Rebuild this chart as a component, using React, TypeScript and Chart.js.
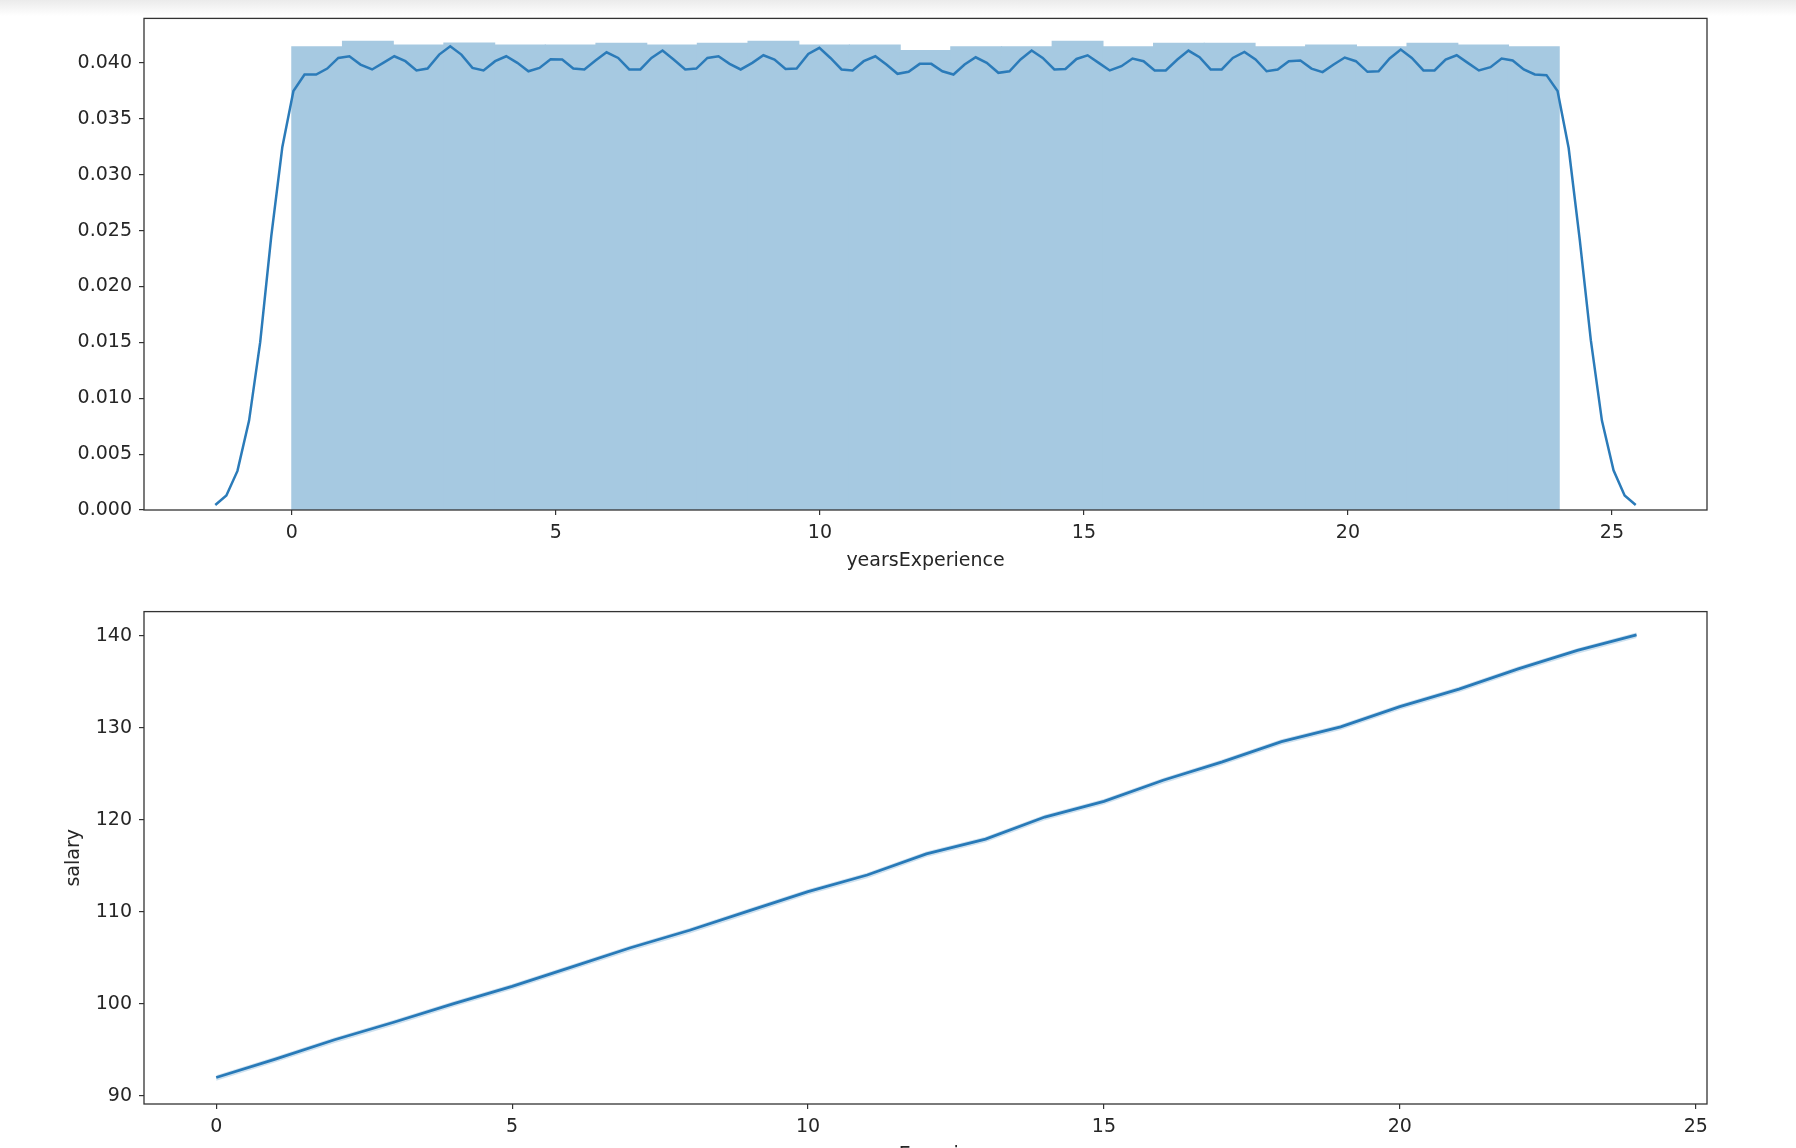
import React, { useEffect, useRef } from "react";
import { Chart, registerables } from "chart.js";

Chart.register(...registerables);

// ---------- top panel: histogram (density) + KDE ----------
const histBinCenters = [
  0.48, 1.44, 2.4, 3.36, 4.32, 5.28, 6.24, 7.2, 8.16, 9.12, 10.08, 11.04, 12.0,
  12.96, 13.92, 14.88, 15.84, 16.8, 17.76, 18.72, 19.68, 20.64, 21.6, 22.56, 23.52,
];
const histDensity = [
  0.04145, 0.04195, 0.0416, 0.0418, 0.0416, 0.0416, 0.04177, 0.0416, 0.04177,
  0.04195, 0.0416, 0.0416, 0.04112, 0.04145, 0.04145, 0.04195, 0.04145, 0.04177,
  0.04177, 0.04145, 0.0416, 0.04145, 0.04177, 0.0416, 0.04145,
];

const kdeX = [
  -1.45, -1.24, -1.03, -0.81, -0.6, -0.39, -0.18, 0.03, 0.24, 0.46, 0.67, 0.88,
  1.09, 1.3, 1.52, 1.73, 1.94, 2.15, 2.36, 2.57, 2.79, 3.0, 3.21, 3.42, 3.63,
  3.85, 4.06, 4.27, 4.48, 4.69, 4.9, 5.12, 5.33, 5.54, 5.75, 5.96, 6.18, 6.39,
  6.6, 6.81, 7.02, 7.23, 7.45, 7.66, 7.87, 8.08, 8.29, 8.5, 8.72, 8.93, 9.14,
  9.35, 9.56, 9.78, 9.99, 10.2, 10.41, 10.62, 10.83, 11.05, 11.26, 11.47, 11.68,
  11.89, 12.11, 12.32, 12.53, 12.74, 12.95, 13.16, 13.38, 13.59, 13.8, 14.01,
  14.22, 14.44, 14.65, 14.86, 15.07, 15.28, 15.49, 15.71, 15.92, 16.13, 16.34,
  16.55, 16.77, 16.98, 17.19, 17.4, 17.61, 17.82, 18.04, 18.25, 18.46, 18.67,
  18.88, 19.1, 19.31, 19.52, 19.73, 19.94, 20.15, 20.37, 20.58, 20.79, 21.0,
  21.21, 21.43, 21.64, 21.85, 22.06, 22.27, 22.48, 22.7, 22.91, 23.12, 23.33,
  23.54, 23.76, 23.97, 24.18, 24.39, 24.6, 24.81, 25.03, 25.24, 25.45,
];
const kdeDensity = [
  0.00045, 0.0013, 0.0035, 0.008, 0.015, 0.0245, 0.0325, 0.0375, 0.03898,
  0.03898, 0.03951, 0.04046, 0.04061, 0.03987, 0.03943, 0.04002, 0.04061,
  0.04017, 0.03934, 0.03951, 0.04076, 0.04151, 0.04076, 0.03957, 0.03934,
  0.04017, 0.04061, 0.04002, 0.03927, 0.03957, 0.04035, 0.04032, 0.03951,
  0.03943, 0.04023, 0.04097, 0.04046, 0.03943, 0.03943, 0.04046, 0.04112,
  0.04032, 0.03943, 0.03951, 0.04046, 0.04061, 0.03993, 0.03943, 0.04002,
  0.0407, 0.04032, 0.03948, 0.03951, 0.04082, 0.04136, 0.04046, 0.03943,
  0.03934, 0.04017, 0.04061, 0.03987, 0.03904, 0.03922, 0.03993, 0.03993,
  0.03927, 0.03898, 0.03987, 0.04052, 0.04002, 0.03913, 0.03927, 0.04032,
  0.04112, 0.04046, 0.03943, 0.03948, 0.04037, 0.0407, 0.04002, 0.03934,
  0.03972, 0.04041, 0.04017, 0.03934, 0.03934, 0.04032, 0.04112, 0.04052,
  0.03943, 0.03943, 0.04046, 0.041, 0.04032, 0.03927, 0.03943, 0.04017,
  0.04023, 0.03951, 0.03919, 0.03987, 0.0405, 0.04017, 0.03922, 0.03927,
  0.04041, 0.04121, 0.04046, 0.03934, 0.03934, 0.04032, 0.0407, 0.04002,
  0.03934, 0.03963, 0.04041, 0.04023, 0.03943, 0.03898, 0.03892, 0.0375,
  0.0324, 0.0242, 0.0152, 0.008, 0.00355, 0.0013, 0.00045,
];

const topXTicks = [0, 5, 10, 15, 20, 25];
const topYTicks = [0, 0.005, 0.01, 0.015, 0.02, 0.025, 0.03, 0.035, 0.04];

// ---------- bottom panel: mean salary by years of experience ----------
const years = [
  0, 1, 2, 3, 4, 5, 6, 7, 8, 9, 10, 11, 12, 13, 14, 15, 16, 17, 18, 19, 20, 21,
  22, 23, 24,
];
const salaryMean = [
  92.0, 94.0, 96.1, 98.0, 100.0, 101.9, 104.0, 106.1, 108.0, 110.1, 112.2,
  114.0, 116.3, 117.9, 120.3, 122.0, 124.3, 126.3, 128.5, 130.1, 132.3, 134.2,
  136.4, 138.4, 140.1,
];
const salaryLow = [
  91.65, 93.65, 95.75, 97.65, 99.65, 101.55, 103.65, 105.75, 107.65, 109.75,
  111.85, 113.65, 115.95, 117.55, 119.95, 121.65, 123.95, 125.95, 128.15,
  129.75, 131.95, 133.85, 136.05, 138.05, 139.75,
];
const salaryHigh = [
  92.25, 94.25, 96.35, 98.25, 100.25, 102.15, 104.25, 106.35, 108.25, 110.35,
  112.45, 114.25, 116.55, 118.15, 120.55, 122.25, 124.55, 126.55, 128.75,
  130.35, 132.55, 134.45, 136.65, 138.65, 140.35,
];

const bottomXTicks = [0, 5, 10, 15, 20, 25];
const bottomYTicks = [90, 100, 110, 120, 130, 140];

// ---------- styling ----------
const FONT = { family: "'DejaVu Sans', sans-serif", size: 19 };
const TEXT = "#262626";
const AXIS = "#333333";
const BLUE = "#2b7bb9";
const HIST_FILL = "#a6c9e1"; // C0 at alpha 0.4 over white, pre-blended

const framePlugin = {
  id: "frame",
  afterDatasetsDraw(chart: any) {
    const { ctx, chartArea: a } = chart;
    ctx.save();
    ctx.strokeStyle = AXIS;
    ctx.lineWidth = 1.3;
    ctx.strokeRect(a.left, a.top, a.right - a.left, a.bottom - a.top);
    ctx.restore();
  },
};

function axis(opts: {
  min: number;
  max: number;
  ticks: number[];
  fmt: (v: number) => string;
  fitW?: number;
  fitH?: number;
  title?: string;
  titlePad?: any;
}) {
  return {
    type: "linear",
    min: opts.min,
    max: opts.max,
    offset: false,
    afterBuildTicks: (s: any) => {
      s.ticks = opts.ticks.map((v) => ({ value: v }));
    },
    afterFit: (s: any) => {
      if (opts.fitW !== undefined) s.width = opts.fitW;
      if (opts.fitH !== undefined) s.height = opts.fitH;
    },
    grid: {
      display: true,
      drawOnChartArea: false,
      drawTicks: true,
      tickLength: 5,
      tickColor: AXIS,
      lineWidth: 1.2,
      offset: false,
    },
    border: { display: false },
    ticks: {
      font: FONT,
      color: TEXT,
      padding: 7,
      maxRotation: 0,
      autoSkip: false,
      callback: (v: any) => opts.fmt(Number(v)),
    },
    title: {
      display: !!opts.title,
      text: opts.title || "",
      font: FONT,
      color: TEXT,
      padding: opts.titlePad || { top: 0, bottom: 0 },
    },
  };
}

export default function App() {
  const topRef = useRef<HTMLCanvasElement | null>(null);
  const botRef = useRef<HTMLCanvasElement | null>(null);

  useEffect(() => {
    const top = new Chart(topRef.current as HTMLCanvasElement, {
      type: "bar",
      data: {
        datasets: [
          {
            type: "line",
            data: kdeX.map((x, i) => ({ x, y: kdeDensity[i] })),
            borderColor: BLUE,
            borderWidth: 2.5,
            pointRadius: 0,
            tension: 0,
            fill: false,
            order: 0,
          } as any,
          {
            type: "bar",
            data: histBinCenters.map((x, i) => ({ x, y: histDensity[i] })),
            backgroundColor: HIST_FILL,
            borderWidth: 0,
            inflateAmount: 0.6,
            barPercentage: 1,
            categoryPercentage: 1,
            order: 1,
          } as any,
        ],
      },
      options: {
        responsive: false,
        animation: false,
        devicePixelRatio: 1,
        layout: { padding: { top: 17, right: 89, left: 0, bottom: 0 } },
        plugins: { legend: { display: false }, tooltip: { enabled: false } },
        scales: {
          x: axis({
            min: -2.8,
            max: 26.8,
            ticks: topXTicks,
            fmt: (v) => String(v),
            fitH: 62,
            title: "yearsExperience",
          }),
          y: axis({
            min: 0,
            max: 0.044,
            ticks: topYTicks,
            fmt: (v) => v.toFixed(3),
            fitW: 144,
          }),
        } as any,
      },
      plugins: [framePlugin],
    });

    const bot = new Chart(botRef.current as HTMLCanvasElement, {
      type: "line",
      data: {
        datasets: [
          {
            data: years.map((x, i) => ({ x, y: salaryLow[i] })),
            borderWidth: 0,
            borderColor: "rgba(0,0,0,0)",
            pointRadius: 0,
            fill: false,
            tension: 0,
          },
          {
            data: years.map((x, i) => ({ x, y: salaryHigh[i] })),
            borderWidth: 0,
            borderColor: "rgba(0,0,0,0)",
            backgroundColor: "rgba(31,119,180,0.22)",
            pointRadius: 0,
            fill: "-1",
            tension: 0,
          },
          {
            data: years.map((x, i) => ({ x, y: salaryMean[i] })),
            borderColor: BLUE,
            borderWidth: 2.8,
            pointRadius: 0,
            fill: false,
            tension: 0,
          },
        ] as any,
      },
      options: {
        responsive: false,
        animation: false,
        devicePixelRatio: 1,
        layout: { padding: { top: 39.6, right: 89, left: 0, bottom: 0 } },
        plugins: { legend: { display: false }, tooltip: { enabled: false } },
        scales: {
          x: axis({
            min: -1.22,
            max: 25.19,
            ticks: bottomXTicks,
            fmt: (v) => String(v),
            fitH: 62,
            title: "yearsExperience",
          }),
          y: axis({
            min: 89.12,
            max: 142.62,
            ticks: bottomYTicks,
            fmt: (v) => String(v),
            fitW: 144,
            title: "salary",
            titlePad: { top: 63, bottom: 0 },
          }),
        } as any,
      },
      plugins: [framePlugin],
    });

    return () => {
      top.destroy();
      bot.destroy();
    };
  }, []);

  return (
    <div
      style={{
        position: "fixed",
        left: 0,
        top: 0,
        width: 1796,
        height: 1148,
        overflow: "hidden",
        background: "#ffffff",
      }}
    >
      <div
        style={{
          position: "absolute",
          left: 0,
          top: 0,
          width: 1796,
          height: 16,
          background: "linear-gradient(#ebebeb, #ffffff)",
        }}
      />
      <canvas
        ref={topRef}
        width={1796}
        height={572}
        style={{ position: "absolute", left: 0, top: 0, width: 1796, height: 572 }}
      />
      <canvas
        ref={botRef}
        width={1796}
        height={594}
        style={{ position: "absolute", left: 0, top: 572, width: 1796, height: 594 }}
      />
    </div>
  );
}
